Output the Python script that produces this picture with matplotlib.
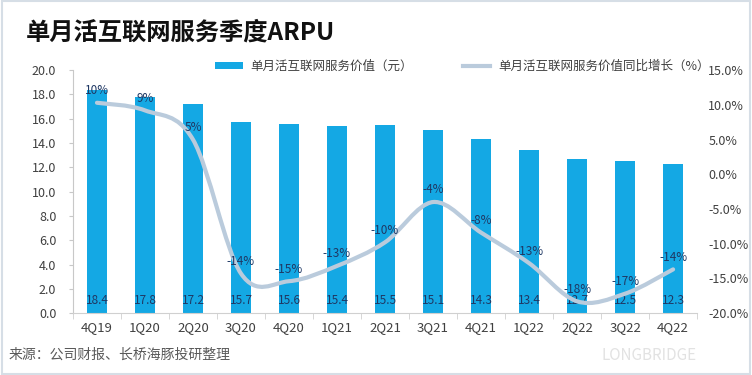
import matplotlib
matplotlib.use("Agg")
from matplotlib import pyplot as plt
from matplotlib.path import Path
from matplotlib.patches import PathPatch, Rectangle
import numpy as np

plt.rcParams['font.family'] = ['Noto Sans CJK SC', 'DejaVu Sans']

# data
quarters = ['4Q19', '1Q20', '2Q20', '3Q20', '4Q20', '1Q21', '2Q21',
            '3Q21', '4Q21', '1Q22', '2Q22', '3Q22', '4Q22']
arpu = [18.4, 17.8, 17.2, 15.7, 15.6, 15.4, 15.5, 15.1, 14.3, 13.4, 12.7, 12.5, 12.3]
yoy = [10.3, 9.2, 5.0, -14.3, -15.4, -13.2, -9.8, -4.0, -8.4, -12.8, -18.3, -17.2, -13.7]
yoy_labels = ['10%', '9%', '5%', '-14%', '-15%', '-13%', '-10%',
              '-4%', '-8%', '-13%', '-18%', '-17%', '-14%']

bar_color = '#14A8E4'
line_color = '#BACBDC'
text_color = '#404040'
label_color = '#1F3864'

fig = plt.figure(figsize=(7.52, 3.75), dpi=100)
ax = fig.add_axes([0.097, 0.165, 0.830, 0.648])
ax2 = ax.twinx()

x = np.arange(len(quarters))
bars = ax.bar(x, arpu, width=0.42, color=bar_color, label='单月活互联网服务价值（元）', zorder=2)

ax.set_xlim(-0.5, len(quarters) - 0.5)
ax.set_ylim(0, 20)
ax.set_yticks(np.arange(0, 20.1, 2))
ax.set_yticklabels(['%.1f' % v for v in np.arange(0, 20.1, 2)], fontsize=9, color=text_color)
ax.set_xticks(x)
ax.set_xticklabels(quarters, fontsize=9.5, color=text_color)
ax.tick_params(axis='x', length=0, pad=6)
ax.set_xticks(np.arange(-0.5, len(quarters), 1), minor=True)
ax.tick_params(axis='x', which='minor', length=4, color='#D0D0D0')
ax.tick_params(axis='y', length=3, color='#C8C8C8', pad=9)
for s in ['top', 'right']:
    ax.spines[s].set_visible(False)
ax.spines['left'].set_color('#C8C8C8')
ax.spines['bottom'].set_color('#D0D0D0')

for xi, v in zip(x, arpu):
    ax.text(xi, 1.0, '%.1f' % v, ha='center', va='center', fontsize=8.5, color=label_color, zorder=4)

# smoothed line (Excel-like bezier through the points)
ax2.set_ylim(-20, 15)
pts = np.column_stack([x, yoy]).astype(float)
verts = [tuple(pts[0])]
codes = [Path.MOVETO]
n = len(pts)
for i in range(n - 1):
    p0 = pts[max(i - 1, 0)]
    p1 = pts[i]
    p2 = pts[i + 1]
    p3 = pts[min(i + 2, n - 1)]
    c1 = p1 + (p2 - p0) / 6.0
    c2 = p2 - (p3 - p1) / 6.0
    verts += [tuple(c1), tuple(c2), tuple(p2)]
    codes += [Path.CURVE4] * 3
ax2.add_patch(PathPatch(Path(verts, codes), facecolor='none', edgecolor=line_color,
                        lw=3, capstyle='round', zorder=3))
ax2.plot([], [], color=line_color, lw=3, label='单月活互联网服务价值同比增长（%）')

for xi, v, lab in zip(x, yoy, yoy_labels):
    ax2.annotate(lab, (xi, v), xytext=(0, 4), textcoords='offset points',
                 ha='center', va='bottom', fontsize=8.5, color=label_color, zorder=5)

ax2.set_yticks(np.arange(-20, 15.1, 5))
ax2.set_yticklabels(['%.1f%%' % v for v in np.arange(-20, 15.1, 5)], fontsize=9, color=text_color)
ax2.tick_params(axis='y', length=0, pad=8)
for s in ['top', 'right', 'left', 'bottom']:
    ax2.spines[s].set_visible(False)

h1, l1 = ax.get_legend_handles_labels()
h2, l2 = ax2.get_legend_handles_labels()
fig.legend(h1 + h2, l1 + l2, loc='center', bbox_to_anchor=(0.615, 0.822), ncol=2,
           frameon=False, fontsize=9, columnspacing=4.0, handlelength=2.2,
           handleheight=0.5, handletextpad=0.6, labelcolor=text_color)

fig.text(0.034, 0.912, '单月活互联网服务季度ARPU', fontsize=17.5, fontweight='bold',
         color='#111111', va='center')
fig.text(0.012, 0.053, '来源：公司财报、长桥海豚投研整理', fontsize=10, color='#595959', va='center')
fig.text(0.80, 0.053, 'LONGBRIDGE', fontsize=11, color='#E2E2E2', va='center')

fig.patches.append(Rectangle((0.002, 0.003), 0.996, 0.994, transform=fig.transFigure,
                             fill=False, edgecolor='#D6DEE6', lw=1.5))

fig.savefig('out.png', dpi=100)
